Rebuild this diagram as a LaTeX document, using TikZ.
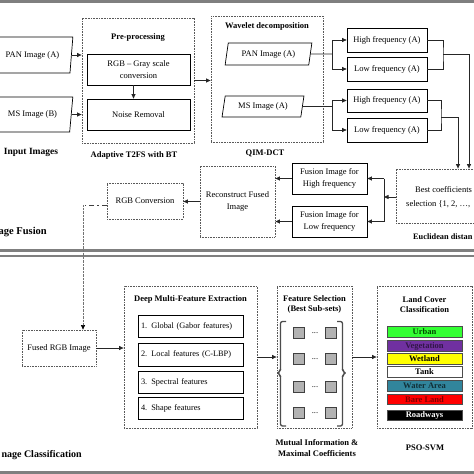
\documentclass[tikz,border=0pt]{standalone}
\usepackage{fontspec}
\setmainfont{Liberation Serif}
\usetikzlibrary{shapes.geometric,arrows.meta}
\definecolor{urbanc}{HTML}{33FF33}
\definecolor{vegc}{HTML}{7030A0}
\definecolor{wetc}{HTML}{FFFF00}
\definecolor{waterc}{HTML}{31859C}
\definecolor{barec}{HTML}{FF0000}
\definecolor{sepc}{HTML}{7F7F7F}
\begin{document}
\begin{tikzpicture}[x=1pt,y=-1pt,
  every node/.style={font=\fontsize{8.5}{12}\selectfont, inner sep=0pt, align=center},
  solidbox/.style={draw=black, line width=0.7pt, fill=white},
  dotbox/.style={draw=black!65, line width=0.8pt, dash pattern=on 0.8pt off 0.8pt},
  para/.style={draw=black, line width=0.7pt, trapezium, trapezium left angle=75, trapezium right angle=105, trapezium stretches=true},
  ttl/.style={font=\bfseries\fontsize{8.5}{10.5}\selectfont},
  conn/.style={line width=0.7pt, draw=black!85},
  arr/.style={conn, -{Triangle[length=4.5pt,width=4pt]}},
  sepline/.style={draw=sepc},
  featbox/.style={solidbox, minimum height=22pt, text width=99pt, inner xsep=3pt, align=left, font=\fontsize{8.3}{10}\selectfont},
  freqbox/.style={solidbox, minimum width=80pt, minimum height=24pt},
  fusbox/.style={solidbox, minimum width=75pt, minimum height=31pt, font=\fontsize{8.5}{12}\selectfont},
  classbar/.style={draw=black!70, line width=0.6pt, minimum width=75pt, minimum height=10.5pt, font=\bfseries\fontsize{8.5}{9}\selectfont},
  sq/.style={draw=black!75, fill=black!30, minimum size=11pt, line width=0.6pt},
  brk/.style={draw=black!70, line width=1.3pt, rounded corners=2pt}
]
\useasboundingbox (0,0) rectangle (474,474);
\clip (0,0) rectangle (474,474);

% separators
\draw[sepline, line width=2.7pt] (0,1.35) -- (474,1.35);
\draw[sepline, line width=3pt] (0,250.5) -- (474,250.5);
\draw[sepline, line width=2.5pt] (0,256.2) -- (474,256.2);
\draw[sepline, line width=3.5pt] (0,472.3) -- (474,472.3);

% input images
\node[para, minimum width=81pt, minimum height=36pt] (pan) at (32.5,55) {PAN Image (A)};
\node[para, minimum width=81pt, minimum height=35pt] (msb) at (32.5,114.5) {MS Image (B)};
\node[font=\bfseries\fontsize{9.5}{11}\selectfont] (inlab) at (31,152) {Input Images};

% pre-processing
\node[dotbox, minimum width=112pt, minimum height=125pt] (pre) at (138,80.5) {};
\node[ttl] (pret) at (138,37) {Pre-processing};
\node[solidbox, minimum width=103pt, minimum height=31pt] (rgbg) at (138.5,69.5) {RGB -- Gray scale\\conversion};
\node[solidbox, minimum width=103pt, minimum height=31pt] (noise) at (138.5,114.5) {Noise Removal};
\node[ttl] (prelab) at (134,155) {Adaptive T2FS with BT};
\draw[arr] ([xshift=-5pt]rgbg.south) -- ([xshift=-5pt]noise.north);
\draw[arr] (pan.east) -- (pan.east -| pre.west);
\draw[arr] (msb.east) -- (msb.east -| pre.west);

% wavelet
\node[dotbox, minimum width=112pt, minimum height=126pt] (wav) at (267,79) {};
\node[ttl] (wavt) at (267,26) {Wavelet decomposition};
\node[para, minimum width=87pt, minimum height=22pt] (pana) at (268.5,54) {PAN Image (A)};
\node[para, minimum width=82pt, minimum height=21pt] (msa) at (263,106.5) {MS Image (A)};
\node[ttl] (wavlab) at (265,153) {QIM-DCT};
\draw[arr] (pre.east) -- (pre.east -| wav.west);

% frequency boxes
\node[freqbox] (hf1) at (387,40) {High frequency (A)};
\node[freqbox] (lf1) at (387,69) {Low frequency (A)};
\node[freqbox, minimum height=23pt] (hf2) at (387,100.5) {High frequency (A)};
\node[freqbox] (lf2) at (387,130) {Low frequency (A)};
\coordinate (j1) at (332,54);
\coordinate (j2) at (332,106.5);
\draw[conn] (pana.east) -- (j1);
\draw[arr] (j1) |- (hf1.west);
\draw[arr] (j1) |- (lf1.west);
\draw[conn] (msa.east) -- (j2);
\draw[arr] (j2) |- (hf2.west);
\draw[arr] (j2) |- (lf2.west);

% best coefficients
\node[dotbox, minimum width=110pt, minimum height=54pt] (best) at (451,196) {};
\node[anchor=west] (bestt1) at (415,190) {Best coefficients};
\node[anchor=west] (bestt2) at (406,204) {selection \{1, 2, …,};
\node[ttl, anchor=west, font=\bfseries\fontsize{8.3}{10}\selectfont] (bestlab) at (413,237) {Euclidean distan};

\coordinate (r1) at (443,54);
\coordinate (r2) at (441,117);
\draw[conn] (hf1.east) -| (r1) |- (lf1.east);
\draw[conn] (hf2.east) -| (r2) |- (lf2.east);
\draw[arr] (r1) -- (469,54) -- (469,0 |- best.north);
\draw[arr] (r2) -- (458,117) -- (458,0 |- best.north);

% fusion
\node[fusbox] (fh) at (329.5,178.5) {Fusion Image for\\High frequency};
\node[fusbox] (fl) at (329.5,221.5) {Fusion Image for\\Low frequency};
\coordinate (j3) at (384,197);
\draw[arr] (best.west |- j3) -- (j3);
\draw[arr] (384,178.5) -- (fh.east);
\draw[arr] (384,221.5) -- (fl.east);
\draw[conn] (384,178.5) -- (384,221.5);

\node[dotbox, minimum width=75pt, minimum height=71pt] (rec) at (237.5,201.5) {Reconstruct Fused\\Image};
\draw[arr] (fh.west) -- (fh.west -| rec.east);
\draw[arr] (fl.west) -- (fl.west -| rec.east);

\node[dotbox, minimum width=76pt, minimum height=36pt] (rgbc) at (145,201) {RGB Conversion};
\draw[arr] (rec.west) -- (rec.west -| rgbc.east);

\node[font=\bfseries\fontsize{10.5}{12}\selectfont, anchor=east] (fuslab) at (47,232) {age Fusion};

% classification
\node[dotbox, minimum width=74pt, minimum height=36pt] (fused) at (59,348) {Fused RGB Image};
\coordinate (c1) at (83,205);
\draw[line width=0.8pt, black!75, dash pattern=on 5pt off 3pt on 1.5pt off 3pt] (rgbc.west |- c1) -- (c1);
\draw[line width=0.6pt, black!55, dash pattern=on 0.7pt off 0.7pt, -{Triangle[length=4.5pt,width=4pt,black]}] (c1) -- (c1 |- fused.north);

\node[dotbox, minimum width=133pt, minimum height=142pt] (deep) at (190.5,357) {};
\node[ttl] (deept) at (190.5,299) {Deep Multi-Feature Extraction};
\node[featbox] (f1) at (190.5,326) {1. Global (Gabor features)};
\node[featbox, minimum height=23pt] (f2) at (190.5,354.5) {2. Local features (C-LBP)};
\node[featbox] (f3) at (190.5,382) {3. Spectral features};
\node[featbox] (f4) at (190.5,408) {4. Shape features};
\draw[arr] (fused.east) -- (fused.east -| deep.west);

\node[dotbox, minimum width=75pt, minimum height=142pt] (fs) at (314.5,357) {};
\node[ttl] (fst) at (314.5,304.5) {Feature Selection\\(Best Sub-sets)};
\draw[arr] (deep.east |- 0,357) -- (fs.west |- 0,357);
\foreach \yy/\nm in {333/a,359/b,387/c,413/d}{
  \node[sq] (sqa\nm) at (298.5,\yy) {};
  \node[sq] (sqb\nm) at (331,\yy) {};
  \node (dots\nm) at (315,\yy) {...};
}
\draw[brk] (286,321.5) -- (280.5,321.5) -- (280.5,371) -- (277.5,373) -- (280.5,375) -- (280.5,426) -- (286,426);
\draw[brk] (337,321.5) -- (342.5,321.5) -- (342.5,371) -- (345.5,373) -- (342.5,375) -- (342.5,426) -- (337,426);
\node[ttl] (fslab) at (317,448) {Mutual Information \&\\Maximal Coefficients};

\node[dotbox, minimum width=95pt, minimum height=142pt] (lc) at (424.5,357) {};
\node[ttl] (lct) at (424.5,304.5) {Land Cover\\Classification};
\draw[arr] (fs.east |- 0,357) -- (lc.west |- 0,357);
\node[classbar, fill=urbanc, text=black!70!green] (cu) at (424.5,332) {Urban};
\node[classbar, fill=vegc, text=vegc!45!black] (cv) at (424.5,346) {Vegetation};
\node[classbar, fill=wetc, text=black] (cw) at (424.5,359) {Wetland};
\node[classbar, fill=white, text=black] (ct) at (424.5,372) {Tank};
\node[classbar, fill=waterc, text=waterc!35!black] (cwa) at (424.5,386) {Water Area};
\node[classbar, fill=barec, text=barec!50!black] (cb) at (424.5,399.5) {Bare Land};
\node[classbar, fill=black, text=white] (cr) at (424.5,415.5) {Roadways};
\node[ttl] (lclab) at (425,448) {PSO-SVM};

\node[font=\bfseries\fontsize{10}{12}\selectfont, anchor=east] (clslab) at (82,455) {nage Classification};
\end{tikzpicture}
\end{document}
